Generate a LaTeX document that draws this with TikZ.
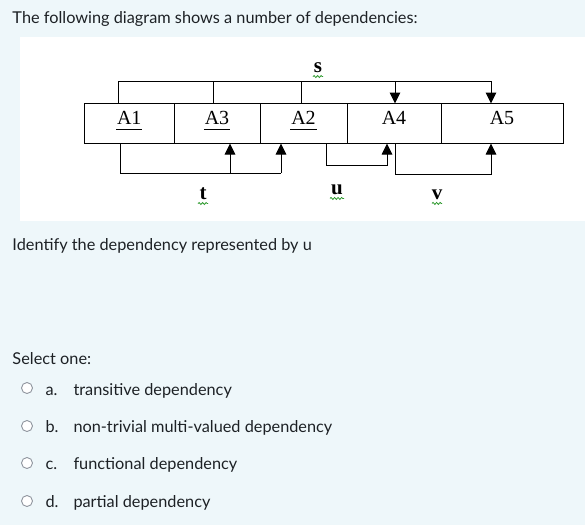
\documentclass[tikz,border=0pt]{standalone}
\usepackage{fontspec}
\setmainfont{Lato}
\newfontfamily\tnr{Liberation Serif}
\usepackage{tikz}
\usetikzlibrary{arrows.meta,positioning,decorations.pathmorphing}
\definecolor{pagebg}{HTML}{EEF7FA}
\definecolor{inktext}{HTML}{1D2125}
\definecolor{squiggle}{HTML}{2E9A2E}
\definecolor{radioedge}{HTML}{8F959E}
\newcommand{\keyattr}[1]{\setbox0\hbox{#1}\rlap{\kern-1pt\rule[-5.5pt]{\dimexpr\wd0+2pt\relax}{1.1pt}}\box0}

\begin{document}
\begin{tikzpicture}[x=1pt, y=-1pt, line width=1pt, >={Triangle[width=10.5pt,length=11pt]},
		cell/.style={draw, inner sep=0pt, outer sep=0pt, minimum height=40pt, text height=14pt, text depth=12.4pt, font=\tnr\fontsize{20}{22}\selectfont},
		deplbl/.style={inner sep=0pt, font=\tnr\bfseries\fontsize{21}{22}\selectfont},
		squig/.style={draw=squiggle, line width=0.8pt, decorate, decoration={snake, amplitude=1pt, segment length=3.5pt}},
		txt/.style={anchor=base west, inner sep=0pt, text=inktext, font=\fontsize{16.3}{19}\selectfont},
		radio/.style={circle, draw=radioedge, fill=white, line width=0.9pt, minimum size=11pt, inner sep=0pt}]
	\useasboundingbox[fill=pagebg] (0,0) rectangle (585,525);
	\fill[white] (20,37) rectangle (585,221);

	% attributes
	\node[cell, minimum width=89.5pt] (a1) at (129.25,123.5) {\keyattr{A1}};
	\node[cell, minimum width=86pt, right=0pt of a1] (a3) {\keyattr{A3}};
	\node[cell, minimum width=87pt, right=0pt of a3] (a2) {\keyattr{A2}};
	\node[cell, minimum width=94pt, right=0pt of a2] (a4) {A4};
	\node[cell, minimum width=122pt, right=0pt of a4] (a5) {A5};

	% dependency s
	\coordinate (sA1) at (118,81);
	\coordinate (sA3) at (213,81);
	\coordinate (sA2) at (301,81);
	\coordinate (sA4) at (395,81);
	\coordinate (sA5) at (491,81);
	\draw (sA1 |- a1.north) -- (sA1) -- (sA5);
	\draw (sA3) -- (sA3 |- a3.north);
	\draw (sA2) -- (sA2 |- a2.north);
	\draw [->] (sA4) -- (sA4 |- a4.north);
	\draw [->] (sA5) -- (sA5 |- a5.north);

	% dependency t
	\coordinate (tA1) at (120,173);
	\coordinate (tA3) at (230,173);
	\coordinate (tA2) at (281,173);
	\draw (tA1 |- a1.south) -- (tA1) -- (tA2);
	\draw [->] (tA3) -- (tA3 |- a3.south);
	\draw [->] (tA2) -- (tA2 |- a2.south);

	% dependency u
	\coordinate (uA2) at (326,165);
	\coordinate (uA4) at (387,165);
	\draw [->] (uA2 |- a2.south) -- (uA2) -- (uA4) -- (uA4 |- a4.south);

	% dependency v
	\coordinate (vA4) at (395,174);
	\coordinate (vA5) at (491,174);
	\draw [->] (vA4 |- a4.south) -- (vA4) -- (vA5) -- (vA5 |- a5.south);

	% labels
	\node[deplbl] (slbl) at (318,68) {s};
	\node[deplbl] (tlbl) at (203,194) {t};
	\node[deplbl] (ulbl) at (337,190) {u};
	\node[deplbl] (vlbl) at (437,195) {v};
	\draw[squig] ([xshift=-5pt,yshift=-3pt]slbl.south) -- ([xshift=5pt,yshift=-3pt]slbl.south);
	\draw[squig] ([xshift=-5pt,yshift=-3pt]tlbl.south) -- ([xshift=5pt,yshift=-3pt]tlbl.south);
	\draw[squig] ([xshift=-7pt,yshift=-3pt]ulbl.south) -- ([xshift=7pt,yshift=-3pt]ulbl.south);
	\draw[squig] ([xshift=-5pt,yshift=-3pt]vlbl.south) -- ([xshift=5pt,yshift=-3pt]vlbl.south);

	% question text
	\node[txt] (intro) at (12,23) {The following diagram shows a number of dependencies:};
	\node[txt] (question) at (12,250) {Identify the dependency represented by u};
	\node[txt] (select) at (12,364) {Select one:};

	% options
	\node[radio] (ra) at (27,388) {};
	\node[radio] (rb) at (27,426) {};
	\node[radio] (rc) at (27,463) {};
	\node[radio] (rd) at (27,501) {};
	\node[txt] (la) at (45,395) {a.};
	\node[txt] (lb) at (45,432.5) {b.};
	\node[txt] (lc) at (45,469.5) {c.};
	\node[txt] (ld) at (45,507) {d.};
	\node[txt] (oa) at (73,395) {transitive dependency};
	\node[txt] (ob) at (73,432.5) {non-trivial multi-valued dependency};
	\node[txt] (oc) at (73,469.5) {functional dependency};
	\node[txt] (od) at (73,507) {partial dependency};
\end{tikzpicture}
\end{document}
